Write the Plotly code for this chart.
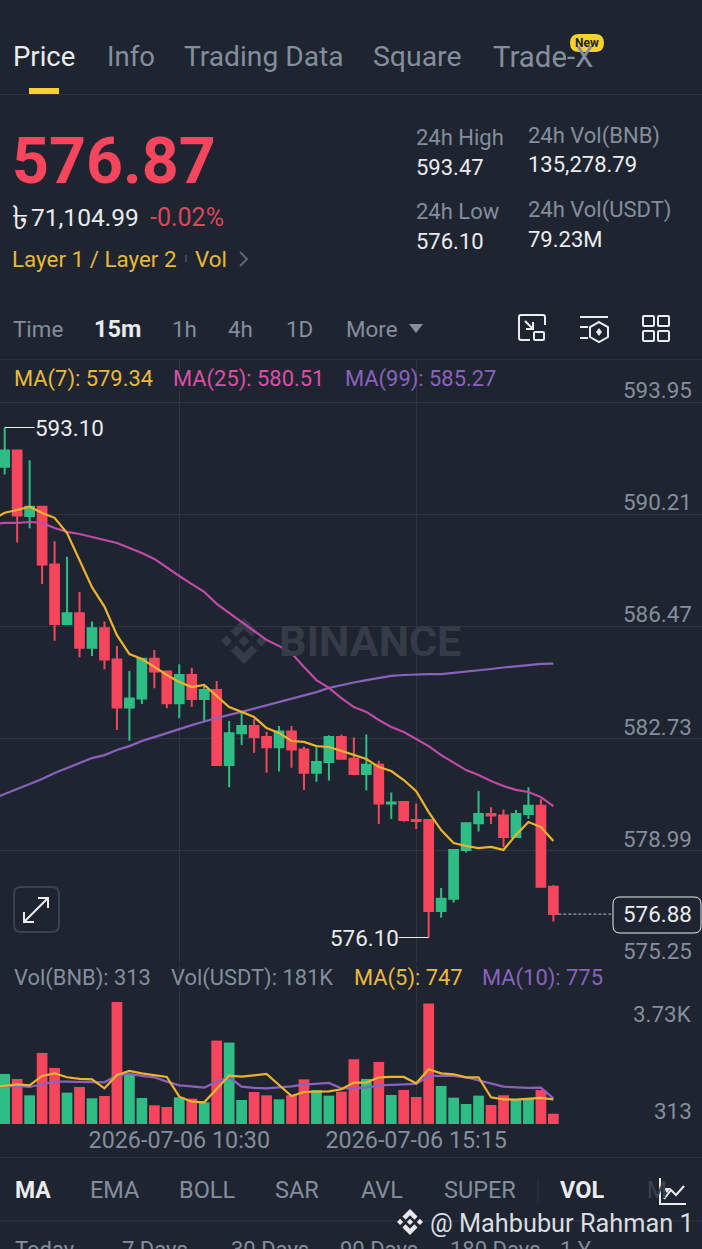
import re
import plotly.graph_objects as go

W, H = 702, 1249
BG = "#1E2530"
GRID = "#2E3540"
GREEN = "#2EBD85"
RED = "#F6465D"
GREY = "#848E9C"
WHITE = "#EAECEF"
YEL = "#F0B90B"
MA7C = "#EDB32E"
MA25C = "#C04AA6"
MA99C = "#8A62BE"
FONT = "Roboto"

index = list(range(45))
line_index = list(range(-1, 45))
open_ = [591.79,592.33,590.15,590.46,588.53,586.55,586.91,585.76,586.41,585.37,583.77,584.07,585.39,584.97,583.91,584.85,584.05,584.35,581.85,582.91,583.15,582.78,582.44,582.97,582.37,581.59,581.95,582.78,582.06,581.55,581.86,580.57,580.62,580.02,580.02,576.98,577.39,579.02,579.91,580.22,580.17,579.45,580.22,580.49,577.79]
close = [592.33,590.17,590.46,588.53,586.55,586.91,585.76,586.41,585.37,583.77,584.07,585.39,584.97,583.91,584.85,584.05,584.35,581.85,582.91,583.15,582.78,582.44,582.97,582.37,581.59,581.95,582.78,582.06,581.55,581.86,580.57,580.60,580.02,579.98,576.98,577.39,579.02,579.91,580.22,580.17,579.45,580.22,580.49,577.79,576.88]
high = [593.10,592.33,592.01,590.46,589.31,588.79,587.62,586.63,586.63,585.82,584.98,585.39,585.68,584.97,585.21,585.09,584.52,584.65,583.32,583.58,583.38,582.96,583.15,583.15,582.46,582.44,582.84,582.87,582.77,582.87,581.99,580.93,580.62,580.57,580.02,577.75,579.02,579.91,580.98,580.44,580.37,580.35,581.11,580.71,577.85]
low = [591.53,589.27,589.74,587.88,585.99,586.55,585.44,585.48,585.04,583.02,582.66,583.88,584.41,583.74,583.41,583.79,583.32,581.82,581.11,582.52,582.26,581.59,581.63,581.76,581.02,581.29,581.33,582.04,581.51,581.00,579.88,580.05,579.96,579.72,576.10,576.76,577.27,578.93,579.63,579.88,579.11,579.45,580.05,577.79,576.63]
ma7 = [590.02,590.26,590.35,590.46,590.25,590.09,589.58,588.68,587.78,587.13,586.18,585.55,585.38,585.12,584.85,584.62,584.45,584.52,584.15,583.78,583.62,583.45,583.08,582.92,582.65,582.62,582.48,582.45,582.32,582.18,582.05,581.78,581.65,581.35,580.98,580.28,579.68,579.25,579.15,579.08,579.12,579.02,579.52,579.95,579.78,579.32]
ma25 = [589.88,589.92,589.92,589.95,589.92,589.75,589.62,589.55,589.45,589.35,589.25,589.08,588.92,588.72,588.42,588.15,587.88,587.62,587.22,586.92,586.62,586.35,586.02,585.82,585.58,585.12,584.68,584.42,584.08,583.78,583.62,583.35,583.12,582.95,582.72,582.48,582.18,581.92,581.68,581.52,581.32,581.15,581.02,580.95,580.78,580.48]
ma99 = [580.72,580.88,581.05,581.22,581.38,581.58,581.75,581.92,582.08,582.18,582.35,582.48,582.65,582.78,582.92,583.05,583.18,583.30,583.42,583.52,583.62,583.73,583.85,583.95,584.05,584.17,584.28,584.42,584.52,584.60,584.68,584.75,584.82,584.85,584.87,584.88,584.88,584.92,584.95,585.00,585.05,585.10,585.15,585.18,585.22,585.23]
volume = [1530,1377,877,2173,1714,959,1132,785,857,3730,1530,796,571,520,816,775,663,2550,2489,734,979,877,755,877,1367,1040,867,989,1979,1377,1897,887,1040,826,3682,1163,806,612,867,581,877,734,785,1040,313]
vol_ma5 = [1142,1163,1214,1183,1469,1550,1428,1377,1367,1091,1499,1622,1550,1499,1438,836,683,663,1061,1479,1448,1489,1530,1193,857,979,1000,1000,1061,1265,1265,1428,1438,1438,1244,1673,1550,1520,1428,1428,816,755,745,765,796,755]
vol_ma10 = [1132,1142,1163,1132,1224,1295,1295,1285,1275,1275,1489,1530,1469,1428,1295,1183,1153,1112,1295,1428,1142,1102,1091,1112,1153,1204,1234,1255,1091,1091,1112,1183,1193,1214,1224,1469,1479,1469,1428,1326,1244,1142,1122,1102,1112,785]
price_ticks = [593.95, 590.21, 586.47, 582.73, 578.99, 575.25]
time_ticks = [14, 33]
time_labels = ["2026-07-06 10:30", "2026-07-06 15:15"]
last_price = 576.88


def px(x):
    return x / W


def py(y):
    return 1 - y / H


def path(d):
    toks = re.findall(r"[MLQCZ]|-?\d+\.?\d*", d)
    out, n = [], 0
    for t in toks:
        if t.isalpha():
            out.append(t)
            n = 0
        else:
            v = float(t)
            out.append(f"{px(v) if n % 2 == 0 else py(v):.5f}")
            n += 1
    return " ".join(out)


shapes, notes = [], []


def pshape(d, fill=None, line=None, lw=0, layer="above"):
    shapes.append(dict(type="path", xref="paper", yref="paper", path=path(d),
                       fillcolor=fill if fill else "rgba(0,0,0,0)",
                       line=dict(color=line if line else "rgba(0,0,0,0)", width=lw), layer=layer))


def hline(y, x0=0, x1=W, c=GRID, w=1):
    pshape(f"M {x0} {y} L {x1} {y}", line=c, lw=w)


def rrect(x0, y0, x1, y1, r):
    return (f"M {x0+r} {y0} L {x1-r} {y0} Q {x1} {y0} {x1} {y0+r} L {x1} {y1-r} Q {x1} {y1} {x1-r} {y1} "
            f"L {x0+r} {y1} Q {x0} {y1} {x0} {y1-r} L {x0} {y0+r} Q {x0} {y0} {x0+r} {y0} Z")


def text(x, y, s, size=22, color=GREY, bold=False, anchor="left", family=FONT):
    notes.append(dict(xref="paper", yref="paper", x=px(x), y=py(y), text=f"<b>{s}</b>" if bold else s,
                      showarrow=False, xanchor=anchor, yanchor="middle", borderpad=0, borderwidth=0,
                      font=dict(family=family, size=size, color=color)))


def logo(cx, cy, r, color, layer="above"):
    def pts(seq):
        return "M " + " L ".join(f"{cx+a*r:.2f} {cy+b*r:.2f}" for a, b in seq) + " Z"
    top = [(0, -1), (.58, -.42), (.34, -.18), (0, -.52), (-.34, -.18), (-.58, -.42)]
    pshape(pts(top), fill=color, layer=layer)
    pshape(pts([(a, -b) for a, b in top]), fill=color, layer=layer)
    for ox in (0, -.76, .76):
        pshape(pts([(ox, -.24), (ox+.24, 0), (ox, .24), (ox-.24, 0)]), fill=color, layer=layer)


fig = go.Figure()
fig.add_trace(go.Candlestick(x=index, open=open_, high=high, low=low, close=close,
                             increasing=dict(line=dict(color=GREEN, width=2), fillcolor=GREEN),
                             decreasing=dict(line=dict(color=RED, width=2), fillcolor=RED),
                             whiskerwidth=0, showlegend=False, xaxis="x", yaxis="y"))
for vals, c in [(ma99, MA99C), (ma25, MA25C), (ma7, MA7C)]:
    fig.add_trace(go.Scatter(x=line_index, y=vals, mode="lines", line=dict(color=c, width=2.2),
                             showlegend=False, xaxis="x", yaxis="y"))
fig.add_trace(go.Bar(x=index, y=volume, width=0.86,
                     marker=dict(color=[GREEN if c >= o else RED for o, c in zip(open_, close)], line=dict(width=0)),
                     showlegend=False, xaxis="x2", yaxis="y2"))
for vals, c in [(vol_ma10, MA99C), (vol_ma5, MA7C)]:
    fig.add_trace(go.Scatter(x=line_index, y=vals, mode="lines", line=dict(color=c, width=2.2),
                             showlegend=False, xaxis="x2", yaxis="y2"))

# separators
hline(94.5)
hline(359.5)
hline(1157.5)
hline(1221)
pshape("M 29 88 L 59 88 L 59 94 L 29 94 Z", fill="#F8D12F")

# tabs
text(13, 57, "Price", 27.5, WHITE)
text(107, 57, "Info", 27.5, GREY)
text(184, 57, "Trading Data", 28.2, GREY)
text(373, 57, "Square", 28.4, GREY)
text(493, 57, "Trade-X", 29.4, GREY)
pshape(rrect(570, 34, 604, 52, 9), fill="#F8D12F")
text(587, 43, "New", 12, "#1E2329", True, "center")

# header
text(12, 161, "576.87", 64.5, RED, True)
text(12, 218, "\u09f3", 33, WHITE)
text(31, 218, "71,104.99", 24.5, WHITE)
text(150, 218, "-0.02%", 25, "#D9475C")
text(12, 259, "Layer 1 / Layer 2", 22.4, "#E5B83A")
pshape("M 186 255 L 186 262", line="#4A505A", lw=1.5)
text(195, 259, "Vol", 22.4, "#E5B83A")
pshape("M 240 252 L 247 259 L 240 266", line="#5E6673", lw=2)
text(416, 138, "24h High", 22, GREY)
text(416, 167, "593.47", 22, WHITE)
text(416, 211, "24h Low", 22, GREY)
text(416, 241, "576.10", 22, WHITE)
text(528, 136, "24h Vol(BNB)", 22, GREY)
text(528, 165, "135,278.79", 22, WHITE)
text(528, 210, "24h Vol(USDT)", 22, GREY)
text(528, 239, "79.23M", 22, WHITE)

# interval row
text(13, 329, "Time", 22.4, GREY)
text(94, 329, "15m", 23.5, WHITE, True)
text(172, 329, "1h", 22.4, GREY)
text(228, 329, "4h", 22.4, GREY)
text(286, 329, "1D", 22.4, GREY)
text(346, 329, "More", 22.4, GREY)
pshape("M 409 324 L 423 324 L 416 333 Z", fill=GREY)
pshape("M 530 340 L 521 340 Q 519 340 519 338 L 519 317 Q 519 315 521 315 L 543 315 Q 545 315 545 317 L 545 325", line=WHITE, lw=2)
pshape(rrect(534, 332, 544, 340, 1), line=WHITE, lw=2)
pshape("M 525 321 L 533 329 M 533 322 L 533 329 L 526 329", line=WHITE, lw=2)
hline(317, 580, 608, WHITE, 2)
hline(327, 580, 588, WHITE, 2)
hline(338, 580, 588, WHITE, 2)
pshape("M 599 322 L 608 327 L 608 337 L 599 342 L 590 337 L 590 327 Z", line=WHITE, lw=2)
pshape("M 599 328 L 602 332 L 599 336 L 596 332 Z", fill=WHITE)
for x0, y0 in [(643, 316), (658, 316), (643, 331), (658, 331)]:
    pshape(rrect(x0, y0, x0+11, y0+10, 1), line=WHITE, lw=2)

# chart legend
text(14, 379, "MA(7): 579.34", 21.9, "#E9B93C")
text(173, 379, "MA(25): 580.51", 21.9, "#DB4FA6")
text(345, 379, "MA(99): 585.27", 21.9, MA99C)

# watermark
logo(244, 641, 23, "#353C47", layer="below")
text(279, 641, "BINANCE", 43, "#353C47", True)

# price axis labels above their grid lines
for p in price_ticks:
    notes.append(dict(xref="paper", yref="y", x=px(692), y=p, text=f"{p:.2f}", showarrow=False, xanchor="right",
                      yanchor="bottom", yshift=-1, borderpad=0, borderwidth=0,
                      font=dict(family=FONT, size=22.4, color=GREY)))

# high / low markers
shapes.append(dict(type="line", xref="x", yref="y", x0=index[0], x1=2.4, y0=high[0], y1=high[0],
                   line=dict(color=WHITE, width=1)))
notes.append(dict(xref="x", yref="y", x=2.42, y=high[0], text="593.10", showarrow=False, xanchor="left",
                  yanchor="middle", borderpad=0, borderwidth=0, font=dict(family=FONT, size=22.4, color=WHITE)))
shapes.append(dict(type="line", xref="x", yref="y", x0=31.6, x1=index[34], y0=min(low), y1=min(low),
                   line=dict(color=WHITE, width=1)))
notes.append(dict(xref="x", yref="y", x=31.6, y=min(low), text="576.10", showarrow=False, xanchor="right",
                  yanchor="middle", borderpad=0, borderwidth=0, font=dict(family=FONT, size=22.4, color=WHITE)))

# last price marker
shapes.append(dict(type="line", xref="x", yref="y", x0=44.4, x1=48.8, y0=last_price, y1=last_price,
                   line=dict(color="#B7BDC6", width=1, dash="3px,2px")))
pshape(rrect(613, 897, 701, 933, 7), fill=BG, line=WHITE, lw=1)
notes.append(dict(xref="paper", yref="y", x=px(657), y=last_price, text=f"{last_price:.2f}", showarrow=False,
                  xanchor="center", yanchor="middle", borderpad=0, borderwidth=0,
                  font=dict(family=FONT, size=22.4, color=WHITE)))

# expand button
pshape(rrect(14, 887, 59, 932, 7), line="#3B424D", lw=2)
pshape("M 24 922 L 48 898 M 38 898 L 48 898 L 48 908 M 24 912 L 24 922 L 34 922", line=WHITE, lw=2)

# volume legend
text(14, 978, "Vol(BNB): 313", 21.9, GREY)
text(171, 978, "Vol(USDT): 181K", 21.9, GREY)
text(354, 978, "MA(5): 747", 21.9, "#E9B93C")
text(482, 978, "MA(10): 775", 21.9, MA99C)
notes.append(dict(xref="paper", yref="y2", x=px(692), y=3730, text="3.73K", showarrow=False, xanchor="right",
                  yanchor="middle", yshift=-12, borderpad=0, borderwidth=0, font=dict(family=FONT, size=22.4, color=GREY)))
notes.append(dict(xref="paper", yref="y2", x=px(692), y=313, text="313", showarrow=False, xanchor="right",
                  yanchor="middle", yshift=3, borderpad=0, borderwidth=0, font=dict(family=FONT, size=22.4, color=GREY)))

# indicator row
text(15, 1190, "MA", 23, WHITE, True)
text(90, 1190, "EMA", 23.5, GREY)
text(179, 1190, "BOLL", 23.5, GREY)
text(275, 1190, "SAR", 23.5, GREY)
text(361, 1190, "AVL", 23.5, GREY)
text(444, 1190, "SUPER", 23.5, GREY)
pshape("M 538 1178 L 538 1203", line=GRID, lw=1)
text(560, 1190, "VOL", 23.5, WHITE, True)
text(647, 1190, "M", 23, "#3B424D")
pshape(rrect(652, 1170, 700, 1212, 1), fill=BG)
pshape("M 660 1178 L 660 1204 L 686 1204", line=WHITE, lw=2)
pshape("M 664 1199 L 671 1190 L 676 1195 L 684 1186", line=WHITE, lw=2)
pshape("M 663 1188 L 671 1188 L 667 1193 Z", fill=WHITE)

# user mark
logo(410, 1222, 13, "#E6E8EB")
text(430, 1223, "@ Mahbubur Rahman 1", 25.3, "#DADDE1")

# range row, cut by the window edge
for x, s in [(15, "Today"), (122, "7 Days"), (231, "30 Days"), (340, "90 Days"), (450, "180 Days"), (560, "1 Y")]:
    text(x, 1249, s, 22, GREY)

xr = [(0 - 4.7) / 12.47, (W - 4.7) / 12.47]
axis_common = dict(range=xr, showline=False, zeroline=False, tickmode="array", tickvals=time_ticks,
                   showgrid=True, gridcolor=GRID, gridwidth=1, rangeslider=dict(visible=False), fixedrange=True)
fig.update_layout(
    width=W, height=H, autosize=False, margin=dict(l=0, r=0, t=0, b=0, pad=0),
    paper_bgcolor=BG, plot_bgcolor=BG, showlegend=False, hovermode=False,
    boxgap=0.30, boxgroupgap=0, bargap=0.14,
    font=dict(family=FONT, color=GREY),
    xaxis=dict(**axis_common, anchor="y", showticklabels=False, domain=[0, 1]),
    xaxis2=dict(**axis_common, anchor="y2", domain=[0, 1], ticktext=time_labels, ticks="",
                tickfont=dict(family=FONT, size=23.3, color=GREY)),
    yaxis=dict(domain=[py(963), py(360)], range=[575.25, 595.35], tickmode="array", tickvals=price_ticks,
               showticklabels=False, showgrid=True, gridcolor=GRID, zeroline=False, fixedrange=True),
    yaxis2=dict(domain=[py(1124), py(965)], range=[0, 4861], tickmode="array", tickvals=[0],
                showticklabels=False, showgrid=True, gridcolor=GRID, zeroline=False, fixedrange=True),
    shapes=shapes, annotations=notes,
)
fig.write_html("out.html", config=dict(displayModeBar=False),
               post_script="document.body.style.margin='0';document.documentElement.style.overflow='hidden';"
                           f"document.body.style.background='{BG}';")
